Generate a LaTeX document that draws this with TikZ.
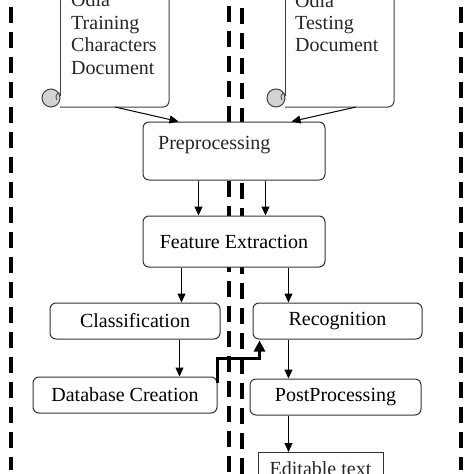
\documentclass[tikz,border=0pt]{standalone}
\usepackage{fontspec}
\setmainfont{Liberation Serif}
\usetikzlibrary{arrows.meta,calc}
\begin{document}
\begin{tikzpicture}[x=1pt,y=-1pt,
  lane/.style={line width=4pt,dash pattern=on 16pt off 9pt},
  box/.style={draw=black!80,line width=1pt,rounded corners=6pt,fill=white,inner sep=0pt,
    font=\fontsize{20}{22.5}\selectfont},
  sqbox/.style={draw=black!80,line width=1pt,fill=white,inner sep=0pt},
  txt/.style={inner sep=0pt,font=\fontsize{20}{22.5}\selectfont,text=black!85},
  docline/.style={draw=black!75,line width=1pt},
  arr/.style={line width=1pt,-{Triangle[length=9pt,width=8pt]}},
  bigarr/.style={line width=3pt,-{Triangle[length=11pt,width=11pt]}}]
\useasboundingbox (0,0) rectangle (474,474);
\clip (0,0) rectangle (474,474);
% swim-lane separators
\draw[lane] (11,7) -- (11,470);
\draw[lane] (229,6) -- (229,474);
\draw[lane] (242,8) -- (242,474);
\draw[lane] (461,7) -- (461,470);
% left document
\draw[docline,rounded corners=6pt] (169,-20) -- (169,107) -- (60,107);
\draw[docline] (60,-20) -- (60,96);
\draw[docline,fill=gray!35] (51,98) circle (9);
\draw[docline,line width=0.8pt] (60,93) .. controls (56,93) and (55,97) .. (57,100);
\node[txt,anchor=base west] (l1) at (71,6.5) {Odia};
\node[txt,anchor=base west] (l2) at (71,29) {Training};
\node[txt,anchor=base west] (l3) at (71,51.5) {Characters};
\node[txt,anchor=base west] (l4) at (71,74) {Document};
\coordinate (ldoc) at (115,107);
% right document
\draw[docline,rounded corners=6pt] (394,-20) -- (394,107) -- (285,107);
\draw[docline] (285,-20) -- (285,96);
\draw[docline,fill=gray!35] (276,98) circle (9);
\draw[docline,line width=0.8pt] (285,93) .. controls (281,93) and (280,97) .. (282,100);
\node[txt,anchor=base west] (r1) at (295,7) {Odia};
\node[txt,anchor=base west] (r2) at (295,29) {Testing};
\node[txt,anchor=base west] (r3) at (295,51) {Document};
\coordinate (rdoc) at (356,107);
% boxes
\node[box,minimum width=182pt,minimum height=58pt] (pre) at (234,151) {};
\node[txt,anchor=base west] (pret) at (158,149) {Preprocessing};
\node[box,minimum width=182pt,minimum height=51pt] (fe) at (234,241.5) {Feature Extraction};
\node[box,minimum width=170pt,minimum height=36pt] (cls) at (135,321) {Classification};
\node[box,minimum width=169pt,minimum height=36pt] (rec) at (337.5,321) {Recognition};
\node[box,minimum width=184pt,minimum height=36pt] (db) at (125,395) {Database Creation};
\node[box,minimum width=171pt,minimum height=36pt] (post) at (335.5,397) {PostProcessing};
\node[sqbox,minimum width=125pt,minimum height=50pt,anchor=north] (edit) at (320.5,452) {};
\node[txt,anchor=base] (editt) at (320.5,475) {Editable text};
% connectors
\draw[arr] (ldoc) -- ($(pre.north west)+(36,0)$);
\draw[arr] (rdoc) -- ($(pre.north east)+(-34,0)$);
\draw[arr] ($(pre.south west)+(56,0)$) coordinate (p1) -- (p1 |- fe.north);
\draw[arr] ($(pre.south west)+(123,0)$) coordinate (p2) -- (p2 |- fe.north);
\draw[arr] ($(fe.south west)+(39,0)$) coordinate (f1) -- (f1 |- cls.north);
\draw[arr] ($(fe.south west)+(146,0)$) coordinate (f2) -- (f2 |- rec.north);
\draw[arr] ($(cls.south west)+(130,0)$) coordinate (c1) -- (c1 |- db.north);
\draw[arr] ($(rec.south west)+(36,0)$) coordinate (q1) -- (q1 |- post.north);
\draw[arr] ($(post.south west)+(39,0)$) coordinate (q2) -- (q2 |- edit.north);
\coordinate (dbout) at ($(db.north east)+(0,6)$);
\coordinate (recin) at ($(rec.south west)+(7,1)$);
\draw[bigarr] (dbout) -- ++(0,-24) -| (recin);
\end{tikzpicture}
\end{document}
